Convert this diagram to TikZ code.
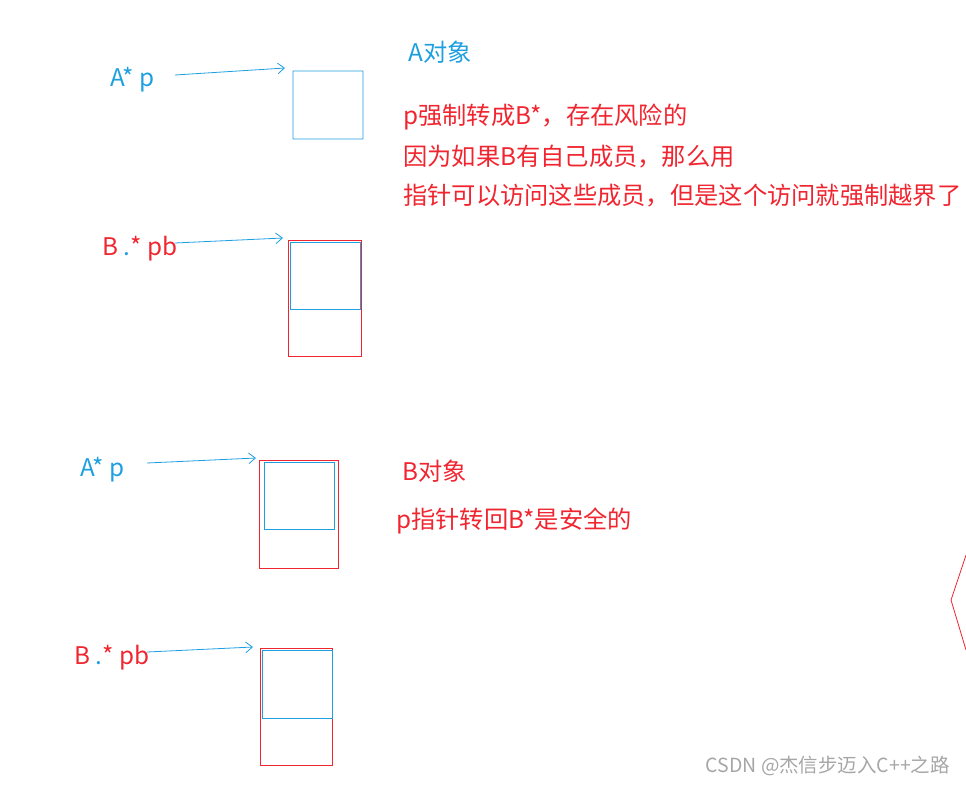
\documentclass[tikz,border=0pt]{standalone}
\usepackage{fontspec}
\setmainfont{Noto Sans CJK SC}
\usetikzlibrary{arrows.meta}
\definecolor{cb}{HTML}{1E9FE0}
\definecolor{cr}{HTML}{F0252F}
\tikzset{
 lbl/.style={anchor=west,inner sep=0pt,font=\fontsize{18.2}{21}\selectfont},
 ptr/.style={color=cb,-{Straight Barb[length=5pt,width=8pt]},line width=0.6pt},
 bbox/.style={color=cb,line width=0.6pt},
 rbox/.style={color=cr,line width=0.6pt}
}
\begin{document}
\begin{tikzpicture}[x=0.75pt,y=-0.75pt]
\useasboundingbox (0,0) rectangle (966,785);
% boxes
\fill[cb,even odd rule] (292.6,70.6) rectangle (363.4,139.4) (293.4,71.4) rectangle (362.6,138.6);
\draw[rbox] (288,240) rectangle (361,356);
\draw[bbox] (290,242) rectangle (360,309);
\draw[rbox] (259,460) rectangle (338,568);
\draw[bbox] (264,462) rectangle (334,529);
\draw[rbox] (260,648) rectangle (332,765);
\draw[bbox] (262,650) rectangle (332,718);
\draw[rbox] (966,555) -- (951,600) -- (966,650);
% texts
\node[lbl,text=cb] (ta) at (408,52) {A对象};
\node[lbl,text=cb] (p1) at (110,80) {A* p};
\node[lbl,text=cr] (l1) at (403,117) {p强制转成B*，存在风险的};
\node[lbl,text=cr] (l2) at (403,157) {因为如果B有自己成员，那么用};
\node[lbl,text=cr] (l3) at (403,196) {指针可以访问这些成员，但是这个访问就强制越界了};
\node[lbl,text=cr] (pb1) at (102,249) {B\ \textcolor{cb}{.}* pb};
\node[lbl,text=cr] (tb) at (402,471) {B对象};
\node[lbl,text=cr] (l4) at (396,521) {p指针转回B*是安全的};
\node[lbl,text=cb] (p2) at (80,470) {A* p};
\node[lbl,text=cr] (pb2) at (74,658) {B\ \textcolor{cb}{.}* pb};
\node[anchor=east,inner sep=0pt,text=gray!70,font=\fontsize{14.6}{17}\selectfont] (wm) at (950,766) {CSDN @杰信步迈入C++之路};
% arrows
\coordinate (p1e) at (175,75);
\coordinate (b1t) at (285,68);
\draw[ptr] (p1e) -- (b1t);
\coordinate (pb1e) at (175,243);
\coordinate (b2t) at (283,238);
\draw[ptr] (pb1e) -- (b2t);
\coordinate (p2e) at (147,463);
\coordinate (b3t) at (256,458);
\draw[ptr] (p2e) -- (b3t);
\coordinate (pb2e) at (147,652);
\coordinate (b4t) at (253,647);
\draw[ptr] (pb2e) -- (b4t);
\end{tikzpicture}
\end{document}
